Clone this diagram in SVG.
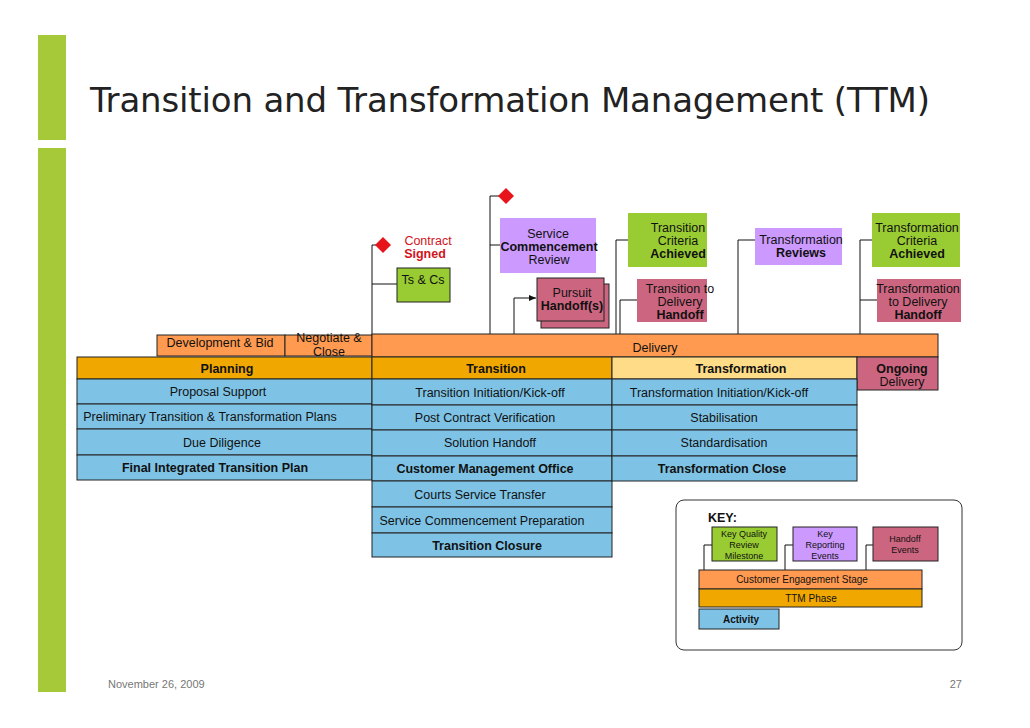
<svg xmlns="http://www.w3.org/2000/svg" width="1030" height="728" viewBox="0 0 1030 728">
<style>
.b{stroke:#222;stroke-width:1}
.bl{fill:#7EC3E6}.or{fill:#FF9A50}.pl{fill:#F0A800}.gr{fill:#99CC33}.pu{fill:#CC99FF}.pk{fill:#CC6680}.ly{fill:#FFDD88}
text{font-family:"Liberation Sans","DejaVu Sans",sans-serif;font-size:12.5px;fill:#111;text-anchor:middle}
.s{font-size:9px}
.c{fill:none;stroke:#111;stroke-width:1}
</style>
<defs><marker id="ar" markerWidth="8" markerHeight="8" refX="7" refY="4" orient="auto"><path d="M0,1 L7,4 L0,7 Z" fill="#111"/></marker></defs>
<rect width="1030" height="728" fill="#fff"/>
<rect x="38" y="35" width="28" height="105" fill="#A6C93A"/>
<rect x="38" y="148" width="28" height="544" fill="#A6C93A"/>
<text x="90" y="112" style="font-family:'DejaVu Sans',sans-serif;font-size:34px;text-anchor:start;fill:#222" textLength="840">Transition and Transformation Management (TTM)</text>
<text x="108" y="688" style="font-size:11px;text-anchor:start;fill:#777">November 26, 2009</text>
<text x="962" y="688" style="font-size:11px;text-anchor:end;fill:#777">27</text>

<g id="connectors">
<path class="c" d="M372,245 H378 M372,245 V335 M372,284 H397"/>
<path class="c" d="M490,196 H500 M490,196 V335 M490,245 H500"/>
<path class="c" d="M514,335 V298 H536" marker-end="url(#ar)"/>
<path class="c" d="M611,335 H616 V240 H628"/>
<path class="c" d="M620,335 V300 H637"/>
<path class="c" d="M738,335 V240 H755"/>
<path class="c" d="M860,335 V240 H872 M860,300 H877"/>
<path class="c" d="M704,570 V545 H712 M785,570 V545 H793 M866,570 V545 H873"/>
</g>

<g id="contract-signed"><path d="M383,237 L391,245 L383,253 L375,245 Z" fill="#E8141B"/>
<text x="428" y="245" style="fill:#D0141B">Contract</text><text x="425" y="258" style="fill:#D0141B;font-weight:bold">Signed</text></g>
<g id="ts-cs"><rect class="b gr" x="397" y="268" width="53" height="34"/><text x="423" y="284">Ts &amp; Cs</text></g>
<g id="service-commencement"><path d="M506,188 L514,196 L506,204 L498,196 Z" fill="#E8141B"/>
<rect class="pu" x="500" y="218" width="96" height="55"/><text x="548" y="238">Service</text><text x="549" y="251" style="font-weight:bold">Commencement</text><text x="549" y="264">Review</text></g>
<g id="pursuit"><rect class="b pk" x="541" y="284" width="68" height="44"/><rect class="b pk" x="537" y="278" width="67" height="43"/>
<text x="572" y="297">Pursuit</text><text x="572" y="310" style="font-weight:bold">Handoff(s)</text></g>
<g id="transition-criteria"><rect class="gr" x="628" y="213" width="79" height="54"/><text x="678" y="232">Transition</text><text x="678" y="245">Criteria</text><text x="678" y="258" style="font-weight:bold">Achieved</text></g>
<g id="transition-handoff"><rect class="pk" x="637" y="279" width="70" height="43"/><text x="680" y="293">Transition to</text><text x="680" y="306">Delivery</text><text x="680" y="319" style="font-weight:bold">Handoff</text></g>
<g id="transformation-reviews"><rect class="pu" x="755" y="228" width="87" height="37"/><text x="801" y="244">Transformation</text><text x="801" y="257" style="font-weight:bold">Reviews</text></g>
<g id="transformation-criteria"><rect class="gr" x="872" y="213" width="88" height="54"/><text x="917" y="232">Transformation</text><text x="917" y="245">Criteria</text><text x="917" y="258" style="font-weight:bold">Achieved</text></g>
<g id="transformation-handoff"><rect class="pk" x="877" y="279" width="84" height="43"/><text x="918" y="293">Transformation</text><text x="918" y="306">to Delivery</text><text x="918" y="319" style="font-weight:bold">Handoff</text></g>

<g id="stages">
<rect class="b or" x="157" y="335" width="128" height="21"/><text x="220" y="347">Development &amp; Bid</text>
<rect class="b or" x="285" y="335" width="87" height="21"/><text x="329" y="342">Negotiate &amp;</text><text x="329" y="356">Close</text>
<rect class="b or" x="372" y="334" width="566" height="23"/><text x="655" y="352">Delivery</text>
<rect class="b pl" x="77" y="357" width="295" height="22"/><text x="227" y="373" style="font-weight:bold">Planning</text>
<rect class="b pl" x="372" y="357" width="240" height="22"/><text x="496" y="373" style="font-weight:bold">Transition</text>
<rect class="b ly" x="612" y="357" width="245" height="22"/><text x="741" y="373" style="font-weight:bold">Transformation</text>
<rect class="b pk" x="857" y="357" width="81" height="33"/><text x="902" y="373" style="font-weight:bold">Ongoing</text><text x="902" y="386">Delivery</text>
</g>
<g id="planning-activities">
<rect class="b bl" x="77" y="379" width="295" height="25"/><text x="218" y="396">Proposal Support</text>
<rect class="b bl" x="77" y="404" width="295" height="25"/><text x="210" y="421">Preliminary Transition &amp; Transformation Plans</text>
<rect class="b bl" x="77" y="429" width="295" height="26"/><text x="222" y="447">Due Diligence</text>
<rect class="b bl" x="77" y="455" width="295" height="25"/><text x="215" y="472" style="font-weight:bold">Final Integrated Transition Plan</text>
</g>
<g id="transition-activities">
<rect class="b bl" x="372" y="379" width="240" height="26"/><text x="490" y="397">Transition Initiation/Kick-off</text>
<rect class="b bl" x="372" y="405" width="240" height="25"/><text x="485" y="422">Post Contract Verification</text>
<rect class="b bl" x="372" y="430" width="240" height="26"/><text x="490" y="447">Solution Handoff</text>
<rect class="b bl" x="372" y="456" width="240" height="25"/><text x="485" y="473" style="font-weight:bold">Customer Management Office</text>
<rect class="b bl" x="372" y="481" width="240" height="26"/><text x="480" y="499">Courts Service Transfer</text>
<rect class="b bl" x="372" y="507" width="240" height="26"/><text x="482" y="525">Service Commencement Preparation</text>
<rect class="b bl" x="372" y="533" width="240" height="24"/><text x="487" y="550" style="font-weight:bold">Transition Closure</text>
</g>
<g id="transformation-activities">
<rect class="b bl" x="612" y="379" width="245" height="26"/><text x="719" y="397">Transformation Initiation/Kick-off</text>
<rect class="b bl" x="612" y="405" width="245" height="25"/><text x="724" y="422">Stabilisation</text>
<rect class="b bl" x="612" y="430" width="245" height="26"/><text x="724" y="447">Standardisation</text>
<rect class="b bl" x="612" y="456" width="245" height="25"/><text x="722" y="473" style="font-weight:bold">Transformation Close</text>
</g>
<g id="key">
<rect x="676" y="500" width="286" height="150" rx="8" fill="none" stroke="#333"/>
<text x="708" y="522" style="text-anchor:start;font-weight:bold">KEY:</text>
<rect class="b gr" x="712" y="527" width="65" height="34"/><text class="s" x="744" y="537">Key Quality</text><text class="s" x="744" y="548">Review</text><text class="s" x="744" y="559">Milestone</text>
<rect class="b pu" x="793" y="527" width="64" height="34"/><text class="s" x="825" y="537">Key</text><text class="s" x="825" y="548">Reporting</text><text class="s" x="825" y="559">Events</text>
<rect class="b pk" x="873" y="527" width="65" height="34"/><text class="s" x="905" y="542">Handoff</text><text class="s" x="905" y="553">Events</text>
<rect class="b or" x="699" y="570" width="223" height="19"/><text x="802" y="583" style="font-size:10px">Customer Engagement Stage</text>
<rect class="b pl" x="699" y="589" width="223" height="18"/><text x="811" y="602" style="font-size:10px">TTM Phase</text>
<rect class="b bl" x="699" y="609" width="80" height="20"/><text x="741" y="623" style="font-size:10px;font-weight:bold">Activity</text>
</g>
</svg>
